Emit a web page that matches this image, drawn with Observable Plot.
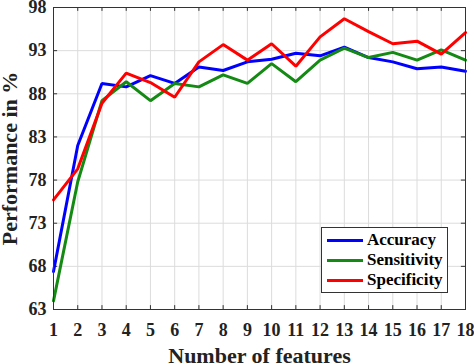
<!DOCTYPE html>
<html>
<head>
<meta charset="utf-8">
<script src="https://cdn.jsdelivr.net/npm/d3@7"></script>
<script src="https://cdn.jsdelivr.net/npm/@observablehq/plot@0.6"></script>
<style>
  body { margin: 0; background: #fff; }
  #wrap { position: relative; width: 474px; height: 364px; }
  #legend {
    position: absolute; left: 321px; top: 227px; width: 127px; height: 66px;
    border: 1px solid #333; background: #fff; box-sizing: border-box;
    font-family: "Liberation Serif", "Times New Roman", serif; font-weight: bold; font-size: 17px;
    padding-top: 2px;
  }
  .row { display: flex; align-items: center; height: 20px; }
  .sw { width: 36px; height: 3px; margin-left: 5px; margin-right: 4px; }
</style>
</head>
<body>
<div id="wrap"><div id="legend"></div></div>
<script>
const features = d3.range(1, 19);
const accuracy    = [67.4, 82.0, 89.2, 88.8, 90.1, 89.2, 91.1, 90.7, 91.7, 92.0, 92.7, 92.4, 93.4, 92.2, 91.7, 90.9, 91.1, 90.6];
const sensitivity = [64.0, 77.8, 87.2, 89.4, 87.2, 89.2, 88.8, 90.2, 89.2, 91.5, 89.4, 91.9, 93.3, 92.2, 92.8, 91.9, 93.1, 91.9];
const specificity = [75.7, 79.3, 86.9, 90.4, 89.3, 87.6, 91.7, 93.7, 91.9, 93.8, 91.2, 94.6, 96.7, 95.2, 93.8, 94.1, 92.6, 95.1];
const seriesNames = ["Accuracy", "Sensitivity", "Specificity"];
const seriesColors = ["#0000ff", "#148a14", "#ff0000"];
const yTicks = [63, 68, 73, 78, 83, 88, 93, 98];

const rows = [];
[accuracy, sensitivity, specificity].forEach((vals, i) =>
  vals.forEach((v, j) => rows.push({x: features[j], y: v, s: seriesNames[i]})));

const font = "'Liberation Serif', 'Times New Roman', serif";
const tx = 0.17, ty = 0.45; // inward tick lengths in data units

const chart = Plot.plot({
  width: 474, height: 364,
  marginLeft: 53, marginRight: 9, marginTop: 7, marginBottom: 55,
  style: {fontFamily: font, fontWeight: "bold", color: "#222", background: "#fff", overflow: "visible"},
  x: {domain: [1, 18], ticks: features},
  y: {domain: [63, 98], ticks: yTicks},
  color: {domain: seriesNames, range: seriesColors},
  marks: [
    Plot.gridX(features, {stroke: "#dcdcdc", strokeOpacity: 1}),
    Plot.gridY(yTicks, {stroke: "#dcdcdc", strokeOpacity: 1}),
    Plot.ruleX(features, {y1: 63, y2: 63 + ty, stroke: "#333"}),
    Plot.ruleX(features, {y1: 98, y2: 98 - ty, stroke: "#333"}),
    Plot.ruleY(yTicks, {x1: 1, x2: 1 + tx, stroke: "#333"}),
    Plot.ruleY(yTicks, {x1: 18, x2: 18 - tx, stroke: "#333"}),
    Plot.line(rows, {x: "x", y: "y", z: "s", stroke: "s", strokeWidth: 3, strokeLinejoin: "miter"}),
    Plot.frame({stroke: "#333"}),
    Plot.axisX(features, {tickSize: 0, tickPadding: 14, fontSize: 18, label: null}),
    Plot.axisY(yTicks, {tickSize: 0, tickPadding: 7, fontSize: 18, label: null}),
    Plot.text(["Number of features"], {frameAnchor: "bottom", dy: 53, fontSize: 22, fontWeight: "bold", fill: "#222"}),
    Plot.text(["Performance in %"], {frameAnchor: "left", textAnchor: "middle", dx: -44, rotate: -90, fontSize: 22, fontWeight: "bold", fill: "#222"})
  ]
});
document.getElementById("wrap").prepend(chart);

const legend = document.getElementById("legend");
seriesNames.forEach((n, i) => {
  const r = document.createElement("div");
  r.className = "row";
  r.innerHTML = `<div class="sw" style="background:${seriesColors[i]}"></div><span>${n}</span>`;
  legend.appendChild(r);
});
</script>
</body>
</html>
